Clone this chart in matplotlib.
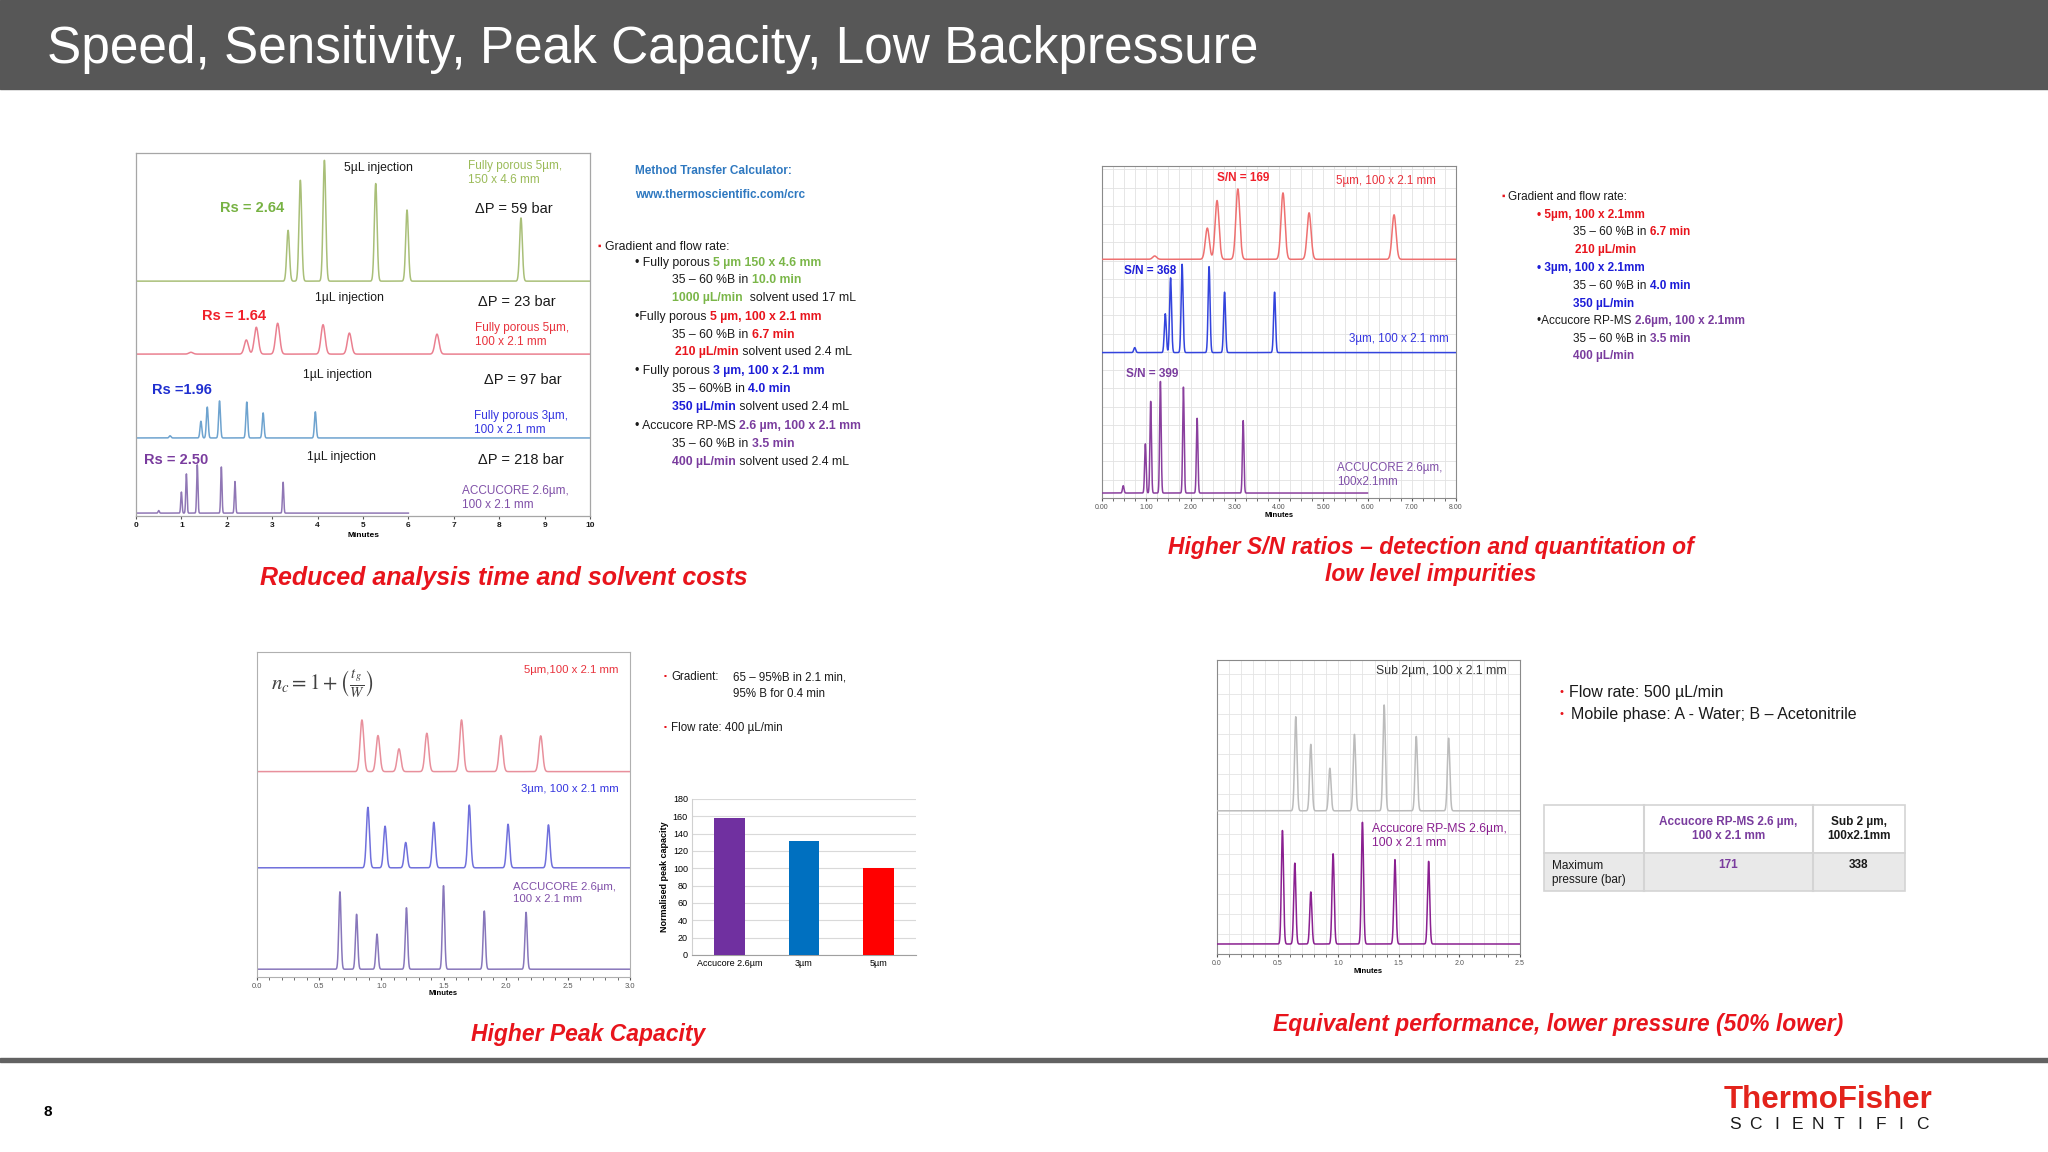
import numpy as np
import matplotlib
matplotlib.use("Agg")
import matplotlib.pyplot as plt
from matplotlib.patches import Rectangle

plt.rcParams["font.family"] = ["Liberation Sans", "DejaVu Sans"]
plt.rcParams["mathtext.fontset"] = "stix"

W, H = 2048, 1152

# ---- panel A: method transfer (retention time in min, peak height in axis units 0-100)
a_green_rt = [3.35, 3.62, 4.15, 5.28, 5.97, 8.48]
a_green_h = [14.0, 27.8, 33.3, 26.9, 19.6, 17.4]
a_red_rt = [1.21, 2.43, 2.65, 3.12, 4.12, 4.70, 6.63]
a_red_h = [0.5, 3.9, 7.4, 8.5, 8.1, 5.8, 5.5]
a_blue_rt = [0.75, 1.43, 1.57, 1.84, 2.44, 2.80, 3.95]
a_blue_h = [0.6, 4.6, 8.5, 10.2, 9.9, 6.9, 7.2]
a_purple_rt = [0.50, 1.00, 1.11, 1.35, 1.88, 2.18, 3.24]
a_purple_h = [0.7, 5.8, 10.8, 13.3, 12.7, 8.7, 8.5]
a_width = [0.030, 0.045, 0.020, 0.014]
a_base = [64.7, 44.6, 21.5, 0.8]
a_end = [10, 10, 10, 6]

# ---- panel B: S/N comparison
b_red_rt = [1.19, 2.38, 2.60, 3.07, 4.09, 4.68, 6.60]
b_red_h = [1.0, 9.4, 17.7, 21.2, 20.0, 14.0, 13.4]
b_blue_rt = [0.74, 1.43, 1.55, 1.81, 2.42, 2.77, 3.90]
b_blue_h = [1.5, 11.7, 22.5, 26.6, 25.9, 18.2, 18.2]
b_purple_rt = [0.48, 0.98, 1.10, 1.32, 1.84, 2.15, 3.19]
b_purple_h = [2.2, 14.8, 27.6, 33.6, 31.9, 22.5, 21.8]
b_width = [0.045, 0.022, 0.017]
b_base = [71.9, 43.8, 1.5]
b_end = [8, 8, 6]

# ---- panel C: peak capacity
c_red_rt = [0.844, 0.973, 1.142, 1.366, 1.645, 1.962, 2.282]
c_red_h = [15.9, 11.1, 7.0, 11.8, 15.9, 11.1, 11.0]
c_blue_rt = [0.892, 1.030, 1.196, 1.422, 1.707, 2.019, 2.344]
c_blue_h = [18.6, 12.8, 7.8, 14.0, 19.3, 13.4, 13.2]
c_purple_rt = [0.667, 0.801, 0.965, 1.202, 1.500, 1.828, 2.164]
c_purple_h = [23.8, 16.9, 10.8, 18.9, 25.7, 17.9, 17.5]
c_width = [0.015, 0.012, 0.009]
c_base = [63.2, 33.6, 2.4]

bar_labels = ["Accucore 2.6µm", "3µm", "5µm"]
bar_values = [158, 132, 100]
bar_colors = ["#7030a0", "#0070c0", "#ff0000"]

# ---- panel D: backpressure
d_grey_rt = [0.650, 0.774, 0.931, 1.134, 1.379, 1.644, 1.911]
d_grey_h = [32.0, 22.6, 14.5, 26.0, 36.0, 25.3, 24.7]
d_purple_rt = [0.540, 0.642, 0.774, 0.958, 1.200, 1.468, 1.746]
d_purple_h = [38.6, 27.5, 17.7, 30.7, 41.4, 28.7, 28.1]
d_width = [0.010, 0.009]
d_base = [48.7, 3.4]

table_cols = ["Accucore RP-MS 2.6 µm,\n100 x 2.1 mm", "Sub 2 µm,\n100x2.1mm"]
table_row = "Maximum\npressure (bar)"
table_vals = [171, 338]

RED = "#e8141c"
GREEN = "#7ab648"
BLUE = "#1c1cd8"
PURPLE = "#7a3c9e"
K = "#1a1a1a"


def peaks(t, base, rt, h, w):
    y = np.full_like(t, base, dtype=float)
    for r, hh in zip(rt, h):
        y = y + hh * np.exp(-0.5 * ((t - r) / w) ** 2)
    return y


fig = plt.figure(figsize=(20.48, 11.52), dpi=100)
fig.patch.set_facecolor("white")


def place(x0, y0, x1, y1):
    return fig.add_axes([x0 / W, 1 - y1 / H, (x1 - x0) / W, (y1 - y0) / H])


page = place(0, 0, W, H)
page.set_xlim(0, W)
page.set_ylim(H, 0)
page.set_axis_off()
page.set_zorder(5)


def rich(x, y, parts, size):
    s, c, w = parts[0]
    t = page.text(x, y, s, color=c, fontweight=w, fontsize=size, va="center", ha="left")
    for s, c, w in parts[1:]:
        t = page.annotate(s, xy=(1, 0), xycoords=t, va="bottom", ha="left",
                          color=c, fontweight=w, fontsize=size)
    return t


def caption(x, y, s, size=16.5):
    page.text(x, y, s, color=RED, fontsize=size, fontweight="bold", style="italic",
              ha="center", va="center", linespacing=1.2)


# header / footer
page.add_patch(Rectangle((0, 0), W, 89, color="#575757", zorder=0))
page.text(47, 50, "Speed, Sensitivity, Peak Capacity, Low Backpressure", color="white",
          fontsize=37, va="center", ha="left")
page.add_patch(Rectangle((0, 1058), W, 4, color="#626262", zorder=0))
page.text(48, 1112, "8", fontsize=11, fontweight="bold", va="center", ha="center")
page.text(1724, 1108, "ThermoFisher", color="#e3231b", fontsize=22.5, fontweight="bold",
          va="baseline", ha="left")
for cx, ch in zip(np.linspace(1735, 1922, 10), "SCIENTIFIC"):
    page.text(cx, 1129, ch, color=K, fontsize=12.5, va="baseline", ha="center")

# ================= panel A =================
axa = place(136, 153, 590, 516)
cols_a = ["#a9bf78", "#ea8090", "#6ea3cf", "#9077b5"]
series_a = [(a_green_rt, a_green_h), (a_red_rt, a_red_h), (a_blue_rt, a_blue_h),
            (a_purple_rt, a_purple_h)]
for (rt, h), w, b, e, c in zip(series_a, a_width, a_base, a_end, cols_a):
    t = np.linspace(0, e, 4000)
    axa.plot(t, peaks(t, b, rt, h, w), color=c, lw=1.1)
axa.set_xlim(0, 10)
axa.set_ylim(0, 100)
axa.set_yticks([])
axa.set_xticks(range(0, 11))
axa.tick_params(axis="x", labelsize=6, length=2.5, pad=2, colors="#555555")
for lb in axa.get_xticklabels():
    lb.set_fontweight("bold")
    lb.set_color(K)
axa.set_xlabel("Minutes", fontsize=6, fontweight="bold", labelpad=2)
for s in axa.spines.values():
    s.set_color("#a6a6a6")
    s.set_linewidth(0.9)

page.text(378, 168, "5µL injection", fontsize=8.8, color=K, ha="center", va="center")
page.text(468, 173, "Fully porous 5µm,\n150 x 4.6 mm", fontsize=8.5, color="#9bbb59",
          ha="left", va="center", linespacing=1.15)
page.text(220, 208, "Rs = 2.64", fontsize=10.5, fontweight="bold", color="#77b243", va="center")
page.text(514, 209, "ΔP = 59 bar", fontsize=10.5, color=K, ha="center", va="center")
page.text(349, 298, "1µL injection", fontsize=8.8, color=K, ha="center", va="center")
page.text(517, 302, "ΔP = 23 bar", fontsize=10.5, color=K, ha="center", va="center")
page.text(202, 316, "Rs = 1.64", fontsize=10.5, fontweight="bold", color="#f0202a", va="center")
page.text(475, 335, "Fully porous 5µm,\n100 x 2.1 mm", fontsize=8.5, color="#e8323c",
          ha="left", va="center", linespacing=1.15)
page.text(337, 375, "1µL injection", fontsize=8.8, color=K, ha="center", va="center")
page.text(523, 380, "ΔP = 97 bar", fontsize=10.5, color=K, ha="center", va="center")
page.text(152, 390, "Rs =1.96", fontsize=10.5, fontweight="bold", color="#1f2fd0", va="center")
page.text(474, 423, "Fully porous 3µm,\n100 x 2.1 mm", fontsize=8.5, color="#3535e0",
          ha="left", va="center", linespacing=1.15)
page.text(341, 457, "1µL injection", fontsize=8.8, color=K, ha="center", va="center")
page.text(521, 460, "ΔP = 218 bar", fontsize=10.5, color=K, ha="center", va="center")
page.text(144, 460, "Rs = 2.50", fontsize=10.5, fontweight="bold", color=PURPLE, va="center")
page.text(462, 498, "ACCUCORE 2.6µm,\n100 x 2.1 mm", fontsize=8.5, color="#8050a8",
          ha="left", va="center", linespacing=1.15)

caption(504, 578, "Reduced analysis time and solvent costs", 18)

# method transfer text
page.text(635, 171, "Method Transfer Calculator:", color="#2e78c0", fontsize=8.5,
          fontweight="bold", va="center")
page.text(635, 195, "www.thermoscientific.com/crc", color="#2e78c0", fontsize=8.5,
          fontweight="bold", va="center")
page.text(597, 246, "▪", color=RED, fontsize=7, va="center")
page.text(605, 247, "Gradient and flow rate:", color=K, fontsize=8.8, va="center")
n, b = "normal", "bold"
block_a = [
    (635, 263, [("• Fully porous ", K, n), ("5 µm 150 x 4.6 mm", GREEN, b)]),
    (672, 280, [("35 – 60 %B in ", K, n), ("10.0 min", GREEN, b)]),
    (672, 298, [("1000 µL/min", GREEN, b), ("  solvent used 17 mL", K, n)]),
    (635, 317, [("•Fully porous ", K, n), ("5 µm, 100 x 2.1 mm", RED, b)]),
    (672, 335, [("35 – 60 %B in ", K, n), ("6.7 min", RED, b)]),
    (675, 352, [("210 µL/min", RED, b), (" solvent used 2.4 mL", K, n)]),
    (635, 371, [("• Fully porous ", K, n), ("3 µm, 100 x 2.1 mm", BLUE, b)]),
    (672, 389, [("35 – 60%B in ", K, n), ("4.0 min", BLUE, b)]),
    (672, 407, [("350 µL/min", BLUE, b), (" solvent used 2.4 mL", K, n)]),
    (635, 426, [("• Accucore RP-MS ", K, n), ("2.6 µm, 100 x 2.1 mm", PURPLE, b)]),
    (672, 444, [("35 – 60 %B in ", K, n), ("3.5 min", PURPLE, b)]),
    (672, 462, [("400 µL/min", PURPLE, b), (" solvent used 2.4 mL", K, n)]),
]
for x, y, parts in block_a:
    rich(x, y, parts, 8.8)

# ================= panel B =================
axb = place(1102, 166, 1456, 498)
cols_b = ["#ee7070", "#3344dd", "#8a3f9e"]
series_b = [(b_red_rt, b_red_h), (b_blue_rt, b_blue_h), (b_purple_rt, b_purple_h)]
for (rt, h), w, bs, e, c in zip(series_b, b_width, b_base, b_end, cols_b):
    t = np.linspace(0, e, 4000)
    axb.plot(t, peaks(t, bs, rt, h, w), color=c, lw=1.1, zorder=3)
axb.set_xlim(0, 8)
axb.set_ylim(0, 100)
axb.set_xticks(np.arange(0, 8.01, 1.0))
axb.set_xticks(np.arange(0, 8.01, 0.25), minor=True)
axb.set_xticklabels(["%.2f" % v for v in np.arange(0, 8.01, 1.0)])
axb.set_yticks(np.arange(0, 100, 5.5))
axb.tick_params(axis="y", left=False, labelleft=False)
axb.tick_params(axis="x", which="both", labelsize=5, length=2, pad=2, colors="#555555")
axb.grid(which="both", color="#e2e2e2", lw=0.6)
axb.set_xlabel("Minutes", fontsize=5.5, fontweight="bold", labelpad=1)
for s in axb.spines.values():
    s.set_color("#8a8a8a")

page.text(1243, 178, "S/N = 169", fontsize=8.5, fontweight="bold", color="#f0202a",
          ha="center", va="center")
page.text(1336, 181, "5µm, 100 x 2.1 mm", fontsize=8.4, color="#e8323c", va="center")
page.text(1124, 271, "S/N = 368", fontsize=8.5, fontweight="bold", color=BLUE, va="center")
page.text(1349, 339, "3µm, 100 x 2.1 mm", fontsize=8.4, color="#3535e0", va="center")
page.text(1126, 374, "S/N = 399", fontsize=8.5, fontweight="bold", color=PURPLE, va="center")
page.text(1337, 475, "ACCUCORE 2.6µm,\n100x2.1mm", fontsize=8.4, color="#8050a8",
          va="center", linespacing=1.15)

caption(1431, 561, "Higher S/N ratios – detection and quantitation of\nlow level impurities")

page.text(1501, 196, "▪", color=RED, fontsize=7, va="center")
page.text(1508, 197, "Gradient and flow rate:", color=K, fontsize=8.5, va="center")
block_b = [
    (1537, 215, [("• 5µm, 100 x 2.1mm", RED, b)]),
    (1573, 232, [("35 – 60 %B in ", K, n), ("6.7 min", RED, b)]),
    (1575, 250, [("210 µL/min", RED, b)]),
    (1537, 268, [("• 3µm, 100 x 2.1mm", BLUE, b)]),
    (1573, 286, [("35 – 60 %B in ", K, n), ("4.0 min", BLUE, b)]),
    (1573, 304, [("350 µL/min", BLUE, b)]),
    (1537, 321, [("•Accucore RP-MS ", K, n), ("2.6µm, 100 x 2.1mm", PURPLE, b)]),
    (1573, 339, [("35 – 60 %B in ", K, n), ("3.5 min", PURPLE, b)]),
    (1573, 356, [("400 µL/min", PURPLE, b)]),
]
for x, y, parts in block_b:
    rich(x, y, parts, 8.5)

# ================= panel C =================
axc = place(257, 652, 630, 977)
cols_c = ["#e8909c", "#7070dc", "#8877bb"]
series_c = [(c_red_rt, c_red_h), (c_blue_rt, c_blue_h), (c_purple_rt, c_purple_h)]
for (rt, h), w, bs, c in zip(series_c, c_width, c_base, cols_c):
    t = np.linspace(0, 3, 4000)
    axc.plot(t, peaks(t, bs, rt, h, w), color=c, lw=1.1)
axc.set_xlim(0, 3)
axc.set_ylim(0, 100)
axc.set_yticks([])
axc.set_xticks(np.arange(0, 3.01, 0.5))
axc.set_xticks(np.arange(0, 3.01, 0.1), minor=True)
axc.set_xticklabels(["%.1f" % v for v in np.arange(0, 3.01, 0.5)])
axc.tick_params(axis="x", which="both", labelsize=5.5, length=2, pad=2, colors="#555555")
axc.set_xlabel("Minutes", fontsize=5.5, fontweight="bold", labelpad=0)
for s in axc.spines.values():
    s.set_color("#b0b0b0")

page.text(271, 684, r"$n_c = 1 + \left(\frac{t_g}{W}\right)$", fontsize=15, color="#404040",
          va="center")
page.text(619, 670, "5µm,100 x 2.1 mm", fontsize=8.2, color="#e8323c", ha="right", va="center")
page.text(619, 789, "3µm, 100 x 2.1 mm", fontsize=8.2, color="#3535e0", ha="right", va="center")
page.text(513, 893, "ACCUCORE 2.6µm,\n100 x 2.1 mm", fontsize=8.2, color="#8050a8",
          va="center", linespacing=1.15)

caption(588, 1034, "Higher Peak Capacity")

page.text(664, 676, "▪", color=RED, fontsize=6, va="center")
page.text(671, 677, "Gradient:", color=K, fontsize=8.3, va="center")
page.text(733, 677, "65 – 95%B in 2.1 min,", color=K, fontsize=8.3, va="center")
page.text(733, 694, "95% B for 0.4 min", color=K, fontsize=8.3, va="center")
page.text(664, 727, "▪", color=RED, fontsize=6, va="center")
page.text(671, 728, "Flow rate: 400 µL/min", color=K, fontsize=8.3, va="center")

axbar = place(692, 799, 916, 955)
axbar.bar(range(len(bar_values)), bar_values, width=0.41, color=bar_colors, zorder=3)
axbar.set_xlim(-0.5, 2.5)
axbar.set_ylim(0, 180)
axbar.set_yticks(range(0, 181, 20))
axbar.set_xticks(range(len(bar_labels)))
axbar.set_xticklabels(bar_labels)
axbar.grid(axis="y", color="#d9d9d9", lw=0.8)
axbar.tick_params(labelsize=6.5, length=0, pad=3)
axbar.set_ylabel("Normalised peak capacity", fontsize=6.5, fontweight="bold", labelpad=3)
for side in ["top", "right"]:
    axbar.spines[side].set_visible(False)
axbar.spines["left"].set_color("#d0d0d0")
axbar.spines["bottom"].set_color("#a0a0a0")

# ================= panel D =================
axd = place(1217, 660, 1520, 954)
cols_d = ["#bcbcbc", "#8a2090"]
series_d = [(d_grey_rt, d_grey_h), (d_purple_rt, d_purple_h)]
for (rt, h), w, bs, c in zip(series_d, d_width, d_base, cols_d):
    t = np.linspace(0, 2.5, 4000)
    axd.plot(t, peaks(t, bs, rt, h, w), color=c, lw=1.1, zorder=3)
axd.set_xlim(0, 2.5)
axd.set_ylim(0, 100)
axd.set_xticks(np.arange(0, 2.51, 0.5))
axd.set_xticks(np.arange(0, 2.51, 0.1), minor=True)
axd.set_xticklabels(["%.1f" % v for v in np.arange(0, 2.51, 0.5)])
axd.set_yticks(np.arange(0, 100, 6.8))
axd.tick_params(axis="y", left=False, labelleft=False)
axd.tick_params(axis="x", which="both", labelsize=5, length=2, pad=2, colors="#555555")
axd.grid(which="both", color="#e4e4e4", lw=0.6)
axd.set_xlabel("Minutes", fontsize=5.5, fontweight="bold", labelpad=1)
for s in axd.spines.values():
    s.set_color("#8a8a8a")

page.text(1376, 671, "Sub 2µm, 100 x 2.1 mm", fontsize=8.8, color="#333333", va="center")
page.text(1372, 836, "Accucore RP-MS 2.6µm,\n100 x 2.1 mm", fontsize=8.8, color="#8a2090",
          va="center", linespacing=1.15)

caption(1558, 1025, "Equivalent performance, lower pressure (50% lower)")

page.text(1560, 692, "•", color=RED, fontsize=8, va="center")
page.text(1569, 692, "Flow rate: 500 µL/min", color=K, fontsize=11.5, va="center")
page.text(1560, 714, "•", color=RED, fontsize=8, va="center")
page.text(1571, 714, "Mobile phase: A - Water; B – Acetonitrile", color=K, fontsize=11.5,
          va="center")

# table
col_x = [1544, 1644, 1813, 1905]
row_y = [805, 853, 891]
page.add_patch(Rectangle((col_x[0], row_y[0]), col_x[-1] - col_x[0], row_y[1] - row_y[0],
                         facecolor="white", edgecolor="#d4d4d4", lw=1.2))
page.add_patch(Rectangle((col_x[0], row_y[1]), col_x[-1] - col_x[0], row_y[2] - row_y[1],
                         facecolor="#e9e9e9", edgecolor="#d4d4d4", lw=1.2))
for x in col_x[1:-1]:
    page.plot([x, x], [row_y[0], row_y[2]], color="#d4d4d4", lw=1.5)
head_colors = ["#7a3c9e", K]
for i, (lab, val) in enumerate(zip(table_cols, table_vals)):
    cx = (col_x[i + 1] + col_x[i + 2]) / 2
    page.text(cx, 816, lab, fontsize=8.5, fontweight="bold", color=head_colors[i],
              ha="center", va="top", linespacing=1.2)
    page.text(cx, 865, str(val), fontsize=8.5, fontweight="bold", color=head_colors[i],
              ha="center", va="center")
page.text(1552, 873, table_row, fontsize=8.5, color=K, va="center", linespacing=1.25)

fig.savefig("out.png", dpi=100, facecolor="white")
